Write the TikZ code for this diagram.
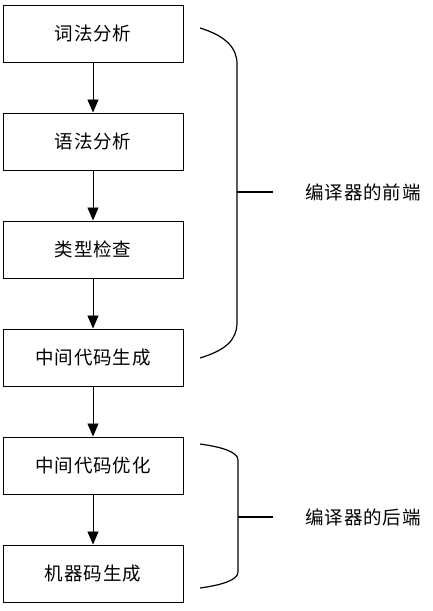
\documentclass[tikz,border=0pt]{standalone}
\usepackage{fontspec}
\newfontfamily\cjk[LetterSpace=5]{Noto Sans CJK SC}
\usetikzlibrary{arrows.meta}
\begin{document}
\begin{tikzpicture}[x=1pt,y=-1pt,
  stagebox/.style={draw, line width=1pt, minimum width=180pt, minimum height=57pt, inner sep=0pt, font=\cjk\fontsize{18.5}{20}\selectfont},
  flow/.style={line width=0.9pt, -{Triangle[length=13pt,width=11pt]}},
  bracepath/.style={line width=1.2pt},
  bracelabel/.style={anchor=west, inner sep=0pt, font=\cjk\fontsize{18.5}{20}\selectfont}]
\useasboundingbox (0,0) rectangle (432,611);
\node[stagebox] (b1) at (93,33.5) {词法分析};
\node[stagebox] (b2) at (93,141.5) {语法分析};
\node[stagebox] (b3) at (93,249.5) {类型检查};
\node[stagebox] (b4) at (93,357.5) {中间代码生成};
\node[stagebox] (b5) at (93,465.5) {中间代码优化};
\node[stagebox] (b6) at (93,573.5) {机器码生成};
\draw[flow] (b1) -- (b2);
\draw[flow] (b2) -- (b3);
\draw[flow] (b3) -- (b4);
\draw[flow] (b4) -- (b5);
\draw[flow] (b5) -- (b6);
% front-end brace
\draw[bracepath] (200,28) .. controls (226,36) and (237,48) .. (237,64)
  -- (237,322) .. controls (237,340) and (226,350) .. (200,358);
\coordinate (m1) at (237,192);
\coordinate (t1) at (273,192);
\draw[bracepath] (m1) -- (t1);
\node[bracelabel] (l1) at (305,192) {编译器的前端};
% back-end brace
\draw[bracepath] (200,444) .. controls (222,447) and (238,452) .. (238,460)
  -- (238,572) .. controls (238,580) and (222,585) .. (200,588);
\coordinate (m2) at (238,517);
\coordinate (t2) at (273,517);
\draw[bracepath] (m2) -- (t2);
\node[bracelabel] (l2) at (305,517) {编译器的后端};
\end{tikzpicture}
\end{document}
